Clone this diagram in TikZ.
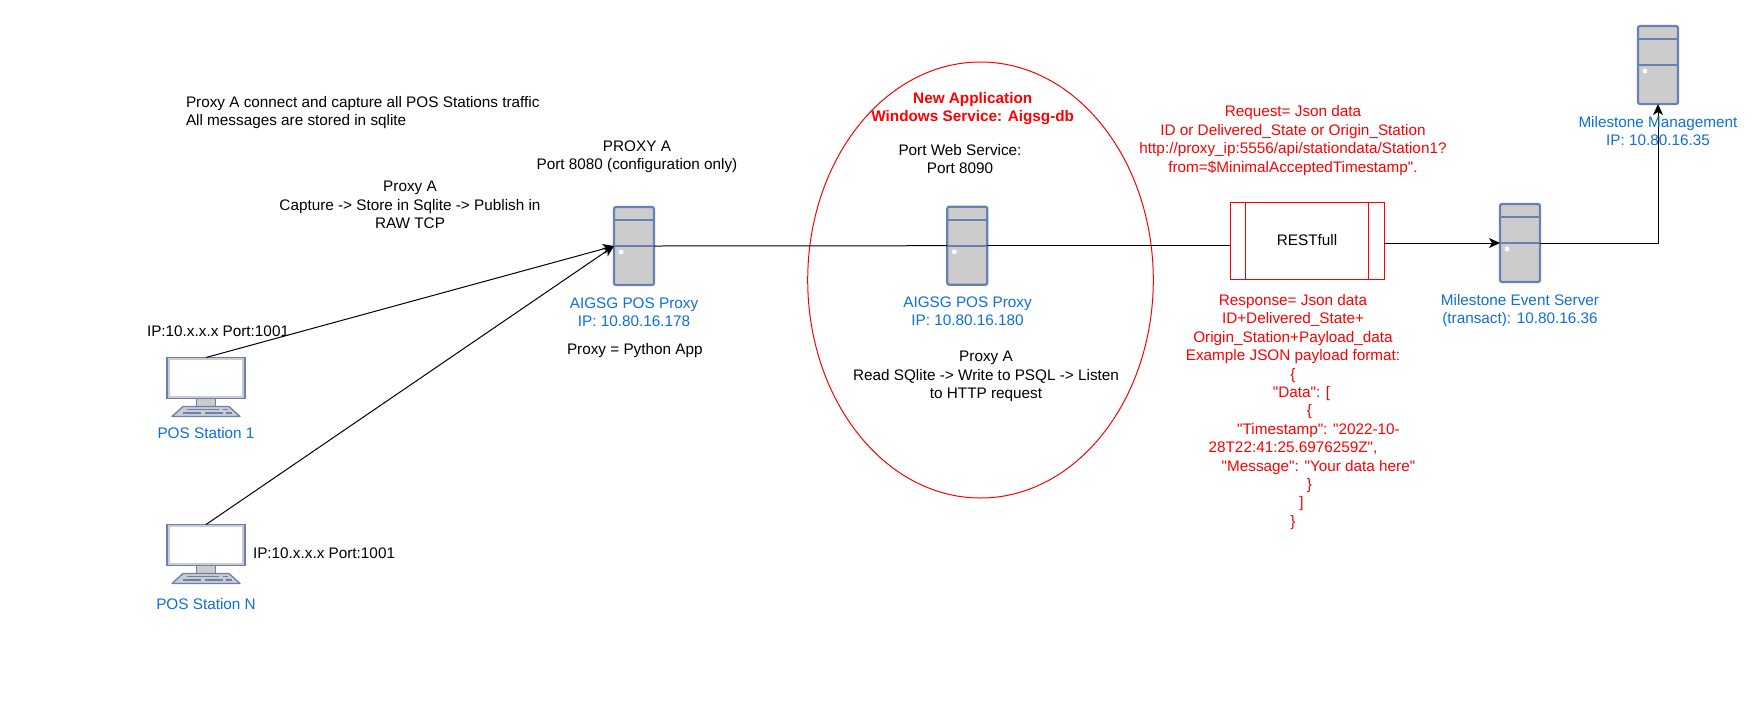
\documentclass[tikz,border=0pt]{standalone}
\usepackage{fontspec}
\setmainfont{Liberation Sans}[Ligatures=TeXOff]
\usetikzlibrary{arrows.meta}
\definecolor{srvline}{HTML}{6881B3}
\definecolor{srvfill}{HTML}{CCCCCC}
\definecolor{lblblue}{HTML}{0F6FDB}
\definecolor{redc}{HTML}{FF0000}
\tikzset{
  txt/.style={inner sep=0pt,outer sep=0pt,align=center,text=black,font=\fontsize{15.3}{18.4}\selectfont},
  txtl/.style={txt,align=left},
  bluetxt/.style={txt,text=lblblue},
  redtxt/.style={txt,text=redc},
  srv/.style={draw=srvline,fill=srvfill,line width=2.2pt,rounded corners=2pt,minimum width=40pt,minimum height=78pt,inner sep=0pt,outer sep=0pt},
  srvdet/.style={draw=srvline,line width=2pt},
  screen/.style={draw=srvline,fill=white,line width=1.5pt,minimum width=78pt,minimum height=41pt,inner sep=0pt,outer sep=0pt},
  mon/.style={draw=srvline,fill=srvfill,line width=1.3pt},
  conn/.style={draw=black,line width=1pt},
  arr/.style={conn,-{Stealth[length=11pt,width=10pt,inset=3pt]}}
}
\newcommand{\srvdetails}[1]{%
  \draw[srvdet] ([yshift=-13pt]#1.north west) -- ([yshift=-13pt]#1.north east);
  \draw[srvdet] ([yshift=-39pt]#1.north west) -- ([yshift=-39pt]#1.north east);
  \fill[white] ([xshift=7pt,yshift=-45pt]#1.north west) circle (2.4pt);
}
\newcommand{\mondetails}[1]{%
  \begin{scope}[shift={(#1.south)}]
    \draw[mon] (-9.5,0) rectangle (9.5,8);
    \draw[mon,line join=round] (-23,8) -- (23,8) -- (34,18) -- (-34,18) -- cycle;
    \draw[srvline,line width=1.2pt] (-19,11) -- (13,11) (17,11) -- (22,11) (-23,14.5) -- (-5,14.5) (-1,14.5) -- (17,14.5) (20,14.5) -- (26,14.5);
  \end{scope}
  \draw[srvfill,line width=2pt] ([xshift=1.9pt,yshift=-1.9pt]#1.north west) rectangle ([xshift=-1.9pt,yshift=1.9pt]#1.south east);
}
\begin{document}
\begin{tikzpicture}[x=1pt,y=-1pt]
\useasboundingbox (0,0) rectangle (1758,716);
\fill[white] (0,0) rectangle (1758,716);

% ellipse
\draw[redc,line width=1pt] (980.5,280) ellipse [x radius=172.8,y radius=218];

% nodes
\node[srv] (s1) at (634,246) {};
\node[srv] (s2) at (967.3,245.7) {};
\node[srv] (s3) at (1520,243) {};
\node[srv] (s4) at (1658,65) {};
\node[screen] (pc1) at (206,378) {};
\node[screen] (pcn) at (206,545) {};
\node[draw=redc,line width=1pt,minimum width=154pt,minimum height=77pt,inner sep=0pt,outer sep=0pt,txt] (rest) at (1307,240.5) {RESTfull};

\draw[redc,line width=1pt] ([xshift=15.5pt]rest.north west) -- ([xshift=15.5pt]rest.south west);
\draw[redc,line width=1pt] ([xshift=-15.5pt]rest.north east) -- ([xshift=-15.5pt]rest.south east);

\srvdetails{s1}\srvdetails{s2}\srvdetails{s3}\srvdetails{s4}
\mondetails{pc1}\mondetails{pcn}

% connectors
\draw[arr] (pc1.north) -- (s1.west);
\draw[arr] (pcn.north) -- (s1.west);
\draw[conn] (s1.east) -- (s2.west);
\draw[conn] (s2.east) -- (rest.west |- s2.east);
\draw[arr] (rest.east |- s3.west) -- (s3.west);
\draw[arr] (s3.east) -| (s4.south);

% labels
\node[txtl,anchor=west] (t0) at (186,112.5) {Proxy A connect and capture all POS Stations traffic\\All messages are stored in sqlite};
\node[txt] (t1) at (410,205) {Proxy A\\Capture -> Store in Sqlite -> Publish in\\RAW TCP};
\node[txt] (t2) at (637,156.5) {PROXY A\\Port 8080 (configuration only)};
\node[txt,anchor=west] (t3) at (147,331) {IP:10.x.x.x Port:1001};
\node[txt,anchor=west] (t4) at (253,553) {IP:10.x.x.x Port:1001};
\node[bluetxt] (t5) at (206,433) {POS Station 1};
\node[bluetxt] (t6) at (206,604) {POS Station N};
\node[bluetxt] (t7) at (634,312.5) {AIGSG POS Proxy\\IP: 10.80.16.178};
\node[txt,anchor=west] (t8) at (567,351) {Proxy = Python App};
\node[redtxt,font=\fontsize{15.3}{18.8}\selectfont\bfseries] (t9) at (972.7,108.5) {New Application\\Windows Service: Aigsg-db};
\node[txt] (t10) at (960,159) {Port Web Service:\\Port 8090};
\node[bluetxt] (t11) at (967.5,311) {AIGSG POS Proxy\\IP: 10.80.16.180};
\node[txt] (t12) at (986,376.5) {Proxy A\\Read SQlite -> Write to PSQL -> Listen\\to HTTP request};
\node[redtxt] (t13) at (1293,140.5) {Request= Json data\\ID or Delivered\_State or Origin\_Station\\http://proxy\_ip:5556/api/stationdata/Station1?\\from=\$MinimalAcceptedTimestamp".};
\node[redtxt] (t14) at (1293,412) {Response= Json data\\ID+Delivered\_State+\\Origin\_Station+Payload\_data\\Example JSON payload format:\\\{\\\hspace*{17pt}"Data": [\\\hspace*{33pt}\{\\\hspace*{51pt}"Timestamp": "2022-10-\\28T22:41:25.6976259Z",\\\hspace*{51pt}"Message": "Your data here"\\\hspace*{33pt}\}\\\hspace*{17pt}]\\\}};
\node[bluetxt] (t15) at (1520,310.5) {Milestone Event Server\\(transact): 10.80.16.36};
\node[bluetxt] (t16) at (1658,131) {Milestone Management\\IP: 10.80.16.35};
\end{tikzpicture}
\end{document}
